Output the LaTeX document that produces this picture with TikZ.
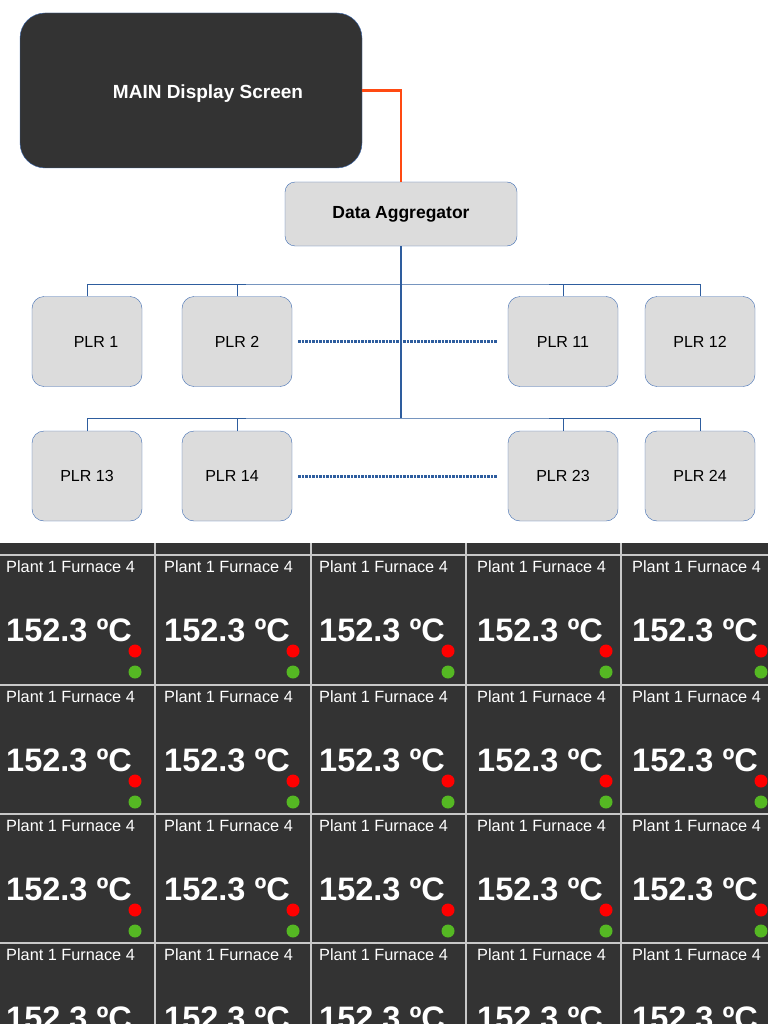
\documentclass[tikz,border=0pt]{standalone}
\usepackage{fontspec}
\setmainfont{Liberation Sans}

\definecolor{darkbg}{HTML}{333333}
\definecolor{boxgrey}{HTML}{DCDCDC}
\definecolor{boxblue}{HTML}{3D6BB3}
\definecolor{linkblue}{HTML}{2E5D9E}
\definecolor{feedorange}{HTML}{FF4A12}
\definecolor{gridgrey}{HTML}{C8C8C8}
\definecolor{ledred}{HTML}{FF0000}
\definecolor{ledgreen}{HTML}{55B823}

\begin{document}
\begin{tikzpicture}[
x=1pt, y=-1pt,
screen/.style={
draw=boxblue,
fill=darkbg,
rounded corners=25pt,
minimum width=342pt,
minimum height=155pt,
inner sep=0pt
},
screenlbl/.style={
text=white,
font=\fontsize{19}{22}\selectfont\bfseries
},
aggbox/.style={
draw=boxblue,
fill=boxgrey,
rounded corners=10pt,
minimum width=232pt,
minimum height=64pt,
inner sep=0pt,
font=\fontsize{17.5}{20}\selectfont\bfseries
},
plrbox/.style={
draw=boxblue,
fill=boxgrey,
rounded corners=12pt,
minimum width=110pt,
minimum height=90pt,
inner sep=0pt,
font=\fontsize{16}{19}\selectfont
},
busline/.style={draw=linkblue, line width=1pt},
trunkline/.style={draw=linkblue, line width=1.6pt},
dotline/.style={draw=linkblue, line width=3pt, dash pattern=on 2.5pt off 1pt},
gridline/.style={draw=gridgrey, line width=1.5pt},
celltitle/.style={anchor=west, inner sep=0pt, text=white, font=\fontsize{16.3}{19}\selectfont},
cellvalue/.style={anchor=west, inner sep=0pt, text=white, font=\fontsize{32.5}{36}\selectfont\bfseries},
led/.style={circle, inner sep=0pt, minimum size=13pt}
]

\clip (0,0) rectangle (768,1024);
\fill[white] (0,0) rectangle (768,1024);

% top part
\node[screen] (main) at (191,90.5) {};
\node[screenlbl] (mainlbl) at (208,93.5) {MAIN Display Screen};

\node[aggbox] (agg) at (401,214) {Data Aggregator};

\node[plrbox] (p1) at (87,341.5) {\hspace*{18pt}PLR 1};
\node[plrbox] (p2) at (237,341.5) {PLR 2};
\node[plrbox] (p11) at (563,341.5) {PLR 11};
\node[plrbox] (p12) at (700,341.5) {PLR 12};

\node[plrbox] (p13) at (87,476) {PLR 13};
\node[plrbox] (p14) at (237,476) {PLR 14\hspace*{10pt}};
\node[plrbox] (p23) at (563,476) {PLR 23};
\node[plrbox] (p24) at (700,476) {PLR 24};

\coordinate (bus1) at (401,284);
\coordinate (bus2) at (401,418);

\draw[feedorange, line width=2.5pt] (main.east) -| (agg.north);
\draw[trunkline] (agg.south) -- (bus2);

\draw[busline] (p1.north) |- (bus1) -| (p12.north);
\draw[busline] (p2.north) -- (p2.north |- bus1);
\draw[busline] (p11.north) -- (p11.north |- bus1);

\draw[busline] (p13.north) |- (bus2) -| (p24.north);
\draw[busline] (p14.north) -- (p14.north |- bus2);
\draw[busline] (p23.north) -- (p23.north |- bus2);

\draw[dotline, shorten <=6pt, shorten >=11pt] (p2.east) -- (p11.west);
\draw[dotline, shorten <=6pt, shorten >=11pt] (p14.east) -- (p23.west);

% display grid
\fill[darkbg] (0,543) rectangle (768,1024);
\foreach \gy in {555,685,814,943}
\draw[gridline] (0,\gy) -- (768,\gy);
\foreach \gx in {155,311,466,621}
\draw[gridline] (\gx,543) -- (\gx,1024);

\foreach \tx/\dx [count=\c] in {6/135,164/293,319/448,477/606,632/761}
\foreach \top [count=\r] in {555,685,814,943} {
\node[celltitle] (title\c\r) at (\tx,\top+12) {Plant 1 Furnace 4};
\node[cellvalue] (value\c\r) at (\tx,\top+75) {152.3 ºC};
\node[led, fill=ledred] (red\c\r) at (\dx,\top+96) {};
\node[led, fill=ledgreen] (green\c\r) at (\dx,\top+117) {};
}

\end{tikzpicture}
\end{document}
